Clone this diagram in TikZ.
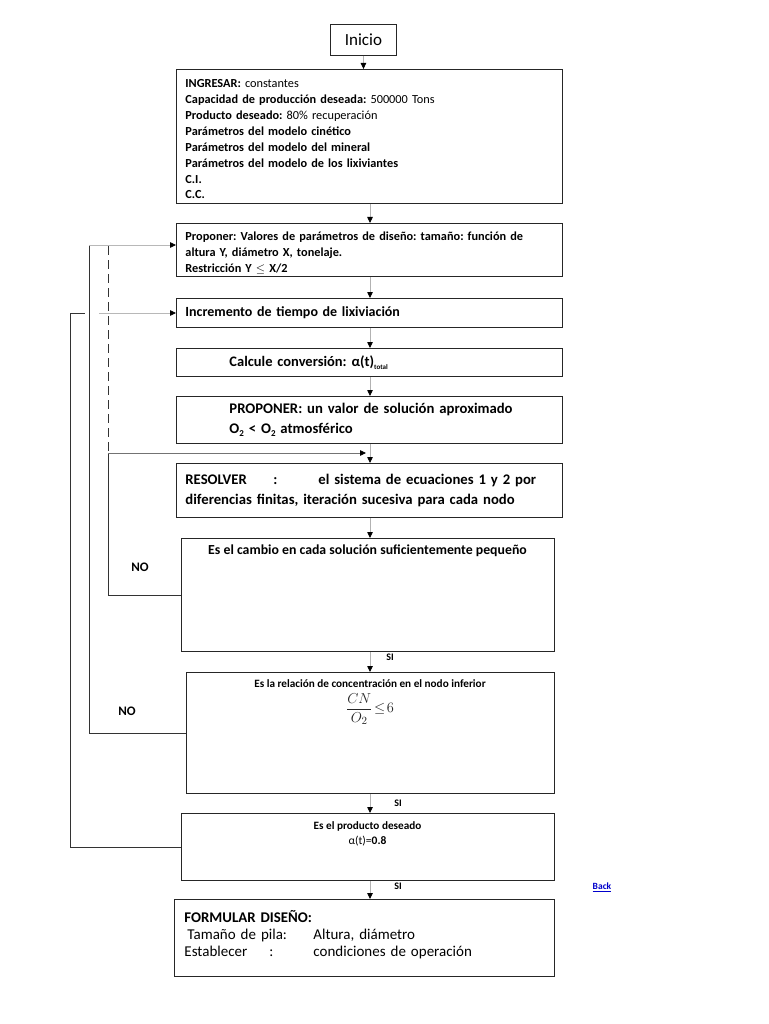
\documentclass[tikz,border=0pt]{standalone}
\usepackage{fontspec}
\setmainfont{Carlito}
\usetikzlibrary{arrows.meta,calc}
\newcommand\sbt[1]{\raisebox{-0.35ex}{\fontsize{9}{9}\selectfont #1}}
\newcommand\tinysub[1]{\raisebox{-0.4ex}{\fontsize{7}{7}\selectfont #1}}
\begin{document}
\frenchspacing
\begin{tikzpicture}[x=1pt,y=-1pt,
  box/.style={draw=black!85, line width=0.9pt, rectangle, inner sep=0pt, anchor=north west},
  flow/.style={draw=black!30, line width=0.8pt, -{Triangle[width=5.5pt,length=6pt,color=black]}},
  loopline/.style={draw=black!80, line width=0.8pt},
  feed/.style={draw=black!28, line width=0.8pt, -{Triangle[width=5.5pt,length=6pt,color=black]}},
  lbl/.style={inner sep=0pt},
]
\useasboundingbox[fill=white] (0,0) rectangle (768,1024);
\coordinate (cx) at (370,0);

% boxes
\node[box, minimum width=66, minimum height=31, font=\fontsize{17}{19}\selectfont] (inicio) at (330,24) {Inicio};

\node[box, minimum width=386, minimum height=134, text width=368, align=left,
      font=\fontsize{12.3}{15.85}\selectfont] (ingresar) at (176,69) {%
\rule{0pt}{14pt}\textbf{INGRESAR:} constantes\\
\textbf{Capacidad de producción deseada:} 500000 Tons\\
\textbf{Producto deseado:} 80\% recuperación\\
\textbf{Parámetros del modelo cinético}\\
\textbf{Parámetros del modelo del mineral}\\
\textbf{Parámetros del modelo de los lixiviantes}\\
\textbf{C.I.}\\
\textbf{C.C.}};

\node[box, minimum width=386, minimum height=53, text width=368, align=left,
      font=\bfseries\fontsize{12.3}{16}\selectfont] (proponer) at (176,223) {%
\rule{0pt}{14pt}Proponer: Valores de parámetros de diseño: tamaño: función de\\
altura Y, diámetro X, tonelaje.\\
Restricción Y $\leq$ X/2};

\node[box, minimum width=386, minimum height=29, text width=368, align=left,
      font=\bfseries\fontsize{14}{16}\selectfont] (incremento) at (176,298) {Incremento de tiempo de lixiviación};

\node[box, minimum width=386, minimum height=28, text width=368, align=left,
      font=\bfseries\fontsize{14.5}{16}\selectfont] (calcule) at (176,348) {\hspace*{44pt}Calcule conversión: α(t)\tinysub{total}};

\node[box, minimum width=386, minimum height=47, text width=368, align=left,
      font=\bfseries\fontsize{14.7}{20}\selectfont] (aprox) at (176,396) {%
\hspace*{44pt}PROPONER: un valor de solución aproximado\\
\hspace*{44pt}O\sbt{2} < O\sbt{2} atmosférico};

\node[box, minimum width=386, minimum height=54, text width=368, align=left,
      font=\bfseries\fontsize{14.7}{20}\selectfont] (resolver) at (176,463) {%
\makebox[88pt][l]{RESOLVER}\makebox[45pt][l]{:}el sistema de ecuaciones 1 y 2 por\\
diferencias finitas, iteración sucesiva para cada nodo};

\node[box, minimum width=373, minimum height=113] (cambio) at (181,538) {};
\node[lbl, font=\bfseries\fontsize{13.8}{15}\selectfont] (cambiot) at (367.5,551) {Es el cambio en cada solución suficientemente pequeño};

\node[box, minimum width=368, minimum height=121] (relacion) at (186,672) {};
\node[lbl, font=\bfseries\fontsize{11.2}{13}\selectfont] (relaciont) at (370,684) {Es la relación de concentración en el nodo inferior};
\node[lbl, text=black!85, font=\fontsize{15}{17}\selectfont] (formula) at (370,709) {$\displaystyle\frac{CN}{O_2}\!\leq\! 6$};

\node[box, minimum width=373, minimum height=67] (producto) at (181,813) {};
\node[lbl, font=\bfseries\fontsize{11.2}{13}\selectfont] (productot) at (367.5,826) {Es el producto deseado};
\node[lbl, font=\fontsize{11.5}{13}\selectfont] (alfa) at (367.5,841) {α(t)=\textbf{0.8}};

\node[box, minimum width=380, minimum height=77, text width=360, align=left,
      font=\fontsize{15}{17}\selectfont] (formular) at (174,899) {%
{\bfseries\fontsize{14.8}{17}\selectfont FORMULAR DISEÑO:}\\
\hspace*{3pt}\makebox[126pt][l]{Tamaño de pila:}Altura, diámetro\\
\makebox[85pt][l]{Establecer}\makebox[44pt][l]{:}condiciones de operación\\[-9pt]\mbox{}};

% labels
\node[lbl, font=\bfseries\fontsize{13}{14}\selectfont] (no1) at (140,567) {NO};
\node[lbl, font=\bfseries\fontsize{13}{14}\selectfont] (no2) at (127,711) {NO};
\node[lbl, font=\bfseries\fontsize{10}{11}\selectfont] (si1) at (390,657) {SI};
\node[lbl, font=\bfseries\fontsize{10}{11}\selectfont] (si2) at (398,803) {SI};
\node[lbl, font=\bfseries\fontsize{10}{11}\selectfont] (si3) at (398,886) {SI};
\node[lbl, text=blue!80!black, font=\bfseries\fontsize{9.5}{11}\selectfont] (back) at (602,887) {\underline{Back}};

% main flow
\draw[flow] (inicio.south) -- (inicio.south |- ingresar.north);
\draw[flow] (ingresar.south -| cx) -- (proponer.north -| cx);
\draw[flow] (proponer.south -| cx) -- (incremento.north -| cx);
\draw[flow] (incremento.south -| cx) -- (calcule.north -| cx);
\draw[flow] (calcule.south -| cx) -- (aprox.north -| cx);
\draw[flow] (aprox.south -| cx) -- (resolver.north -| cx);
\draw[flow] (resolver.south -| cx) -- (cambio.north -| cx);
\draw[flow] (cambio.south -| cx) -- (relacion.north -| cx);
\draw[flow] (relacion.south -| cx) -- (producto.north -| cx);
\draw[flow] (producto.south -| cx) -- (formular.north -| cx);

% loop 1: NO from "cambio" back to RESOLVER
\coordinate (l1) at (108,453);
\coordinate (l1end) at (366,453);
\draw[loopline] (cambio.west) -| (l1);
\draw[draw=black!55, line width=0.8pt, -{Triangle[width=5.5pt,length=6pt,color=black]}] (l1) -- (l1end);
\coordinate (d1) at (108,246);
\draw[draw=black!80, line width=0.8pt, dash pattern=on 9pt off 5pt] (d1) -- (l1);

% loop 2: NO from "relacion" back to Proponer
\coordinate (l2) at (89,245);
\draw[loopline] (relacion.west) -| (l2);
\draw[feed] (l2) -- (proponer.west |- l2);

% loop 3: from "producto" back to Incremento
\coordinate (l3) at (70,313);
\coordinate (l3a) at (85,313);
\coordinate (l3b) at (99,313);
\draw[loopline] (producto.west) -| (l3) -- (l3a);
\draw[feed] (l3b) -- (incremento.west |- l3b);
\end{tikzpicture}
\end{document}
